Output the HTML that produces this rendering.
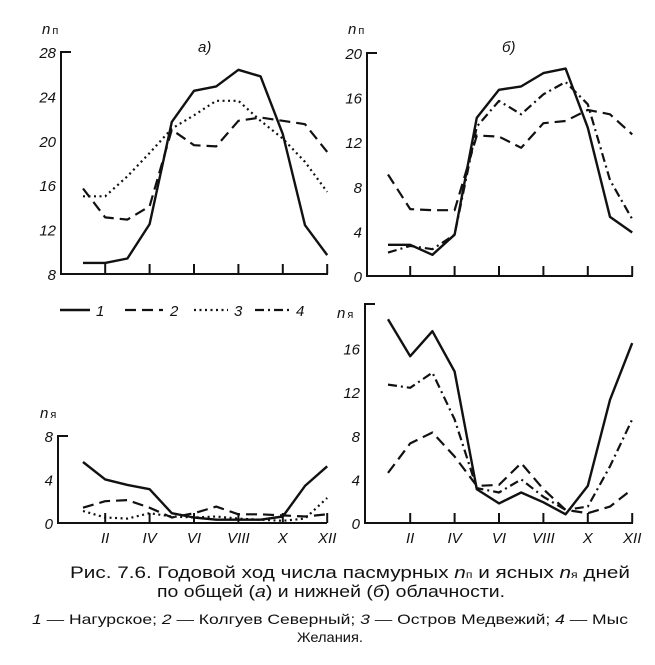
<!DOCTYPE html>
<html><head><meta charset="utf-8"><style>
html,body{margin:0;padding:0;background:#fff;width:655px;height:665px;overflow:hidden}
svg{display:block}
text{font-family:"Liberation Sans","DejaVu Sans",sans-serif;fill:#111}
.tk{font-style:italic;font-size:15px}
.cap{font-family:"Liberation Sans",sans-serif;font-size:17px}
.cap2{font-family:"Liberation Sans",sans-serif;font-size:14px}
</style></head><body>
<svg id="fig" width="655" height="665" viewBox="0 0 655 665">
<g id="axes" stroke="#111" stroke-width="2" fill="none"></g>
<g id="marks" fill="none" stroke="#111"></g>
<g id="labels"></g>
<g>
 <line x1="60" y1="310" x2="90" y2="310" stroke="#111" stroke-width="2.4"/>
 <text x="96" y="316" class="tk">1</text>
 <line x1="125" y1="310" x2="163" y2="310" stroke="#111" stroke-width="2.2" stroke-dasharray="11 6"/>
 <text x="170" y="316" class="tk">2</text>
 <line x1="194" y1="310" x2="228" y2="310" stroke="#111" stroke-width="2.2" stroke-dasharray="2 3.5"/>
 <text x="234" y="316" class="tk">3</text>
 <line x1="255" y1="310" x2="290" y2="310" stroke="#111" stroke-width="2.2" stroke-dasharray="9 4 2 4"/>
 <text x="296" y="316" class="tk">4</text>
</g>
<g>
 <text x="70" y="578" textLength="560" lengthAdjust="spacingAndGlyphs" class="cap">Рис. 7.6. Годовой ход числа пасмурных <tspan font-style="italic">n</tspan><tspan font-size="10">п</tspan> и ясных <tspan font-style="italic">n</tspan><tspan font-size="10">я</tspan> дней</text>
 <text x="157" y="597" textLength="348" lengthAdjust="spacingAndGlyphs" class="cap">по общей (<tspan font-style="italic">а</tspan>) и нижней (<tspan font-style="italic">б</tspan>) облачности.</text>
 <text x="32" y="624" textLength="596" lengthAdjust="spacingAndGlyphs" class="cap2"><tspan font-style="italic">1</tspan> — Нагурское; <tspan font-style="italic">2</tspan> — Колгуев Северный; <tspan font-style="italic">3</tspan> — Остров Медвежий; <tspan font-style="italic">4</tspan> — Мыс</text>
 <text x="297" y="642" textLength="66" lengthAdjust="spacingAndGlyphs" class="cap2">Желания.</text>
</g>
</svg>
<script>
// Panel a) overcast (total cloud)
const aOvc1 = [9.0, 9.0, 9.4, 12.5, 21.7, 24.5, 24.9, 26.4, 25.8, 20.6, 12.4, 9.7];
const aOvc2 = [15.7, 13.1, 12.9, 14.1, 21.0, 19.6, 19.5, 21.8, 22.1, 21.8, 21.5, 19.0];
const aOvc3 = [15.0, 15.0, 16.8, 18.9, 21.1, 22.3, 23.6, 23.6, 21.8, 20.2, 18.1, 15.4];
// Panel б) overcast (low cloud)
const bOvc1 = [2.8, 2.8, 1.9, 3.7, 14.2, 16.7, 17.0, 18.2, 18.6, 13.3, 5.3, 3.9];
const bOvc2 = [9.1, 6.0, 5.9, 5.9, 12.6, 12.5, 11.5, 13.7, 13.9, 14.9, 14.5, 12.7];
const bOvc4 = [2.1, 2.7, 2.4, 3.7, 13.4, 15.7, 14.5, 16.3, 17.4, 15.4, 8.6, 5.1];
// Panel a) clear days
const aClr1 = [5.6, 4.0, 3.5, 3.1, 0.9, 0.5, 0.3, 0.3, 0.3, 0.6, 3.4, 5.2];
const aClr2 = [1.4, 2.0, 2.1, 1.4, 0.5, 0.9, 1.5, 0.8, 0.8, 0.7, 0.6, 0.8];
const aClr3 = [1.1, 0.5, 0.4, 0.9, 0.6, 0.5, 0.6, 0.4, 0.3, 0.2, 0.4, 2.3];
// Panel б) clear days
const bClr1 = [18.7, 15.3, 17.6, 13.9, 3.1, 1.8, 2.8, 1.9, 0.8, 3.4, 11.3, 16.5];
const bClr2 = [4.6, 7.3, 8.3, 6.1, 3.4, 3.5, 5.5, 3.1, 1.2, 0.9, 1.5, 3.1];
const bClr4 = [12.7, 12.4, 13.8, 9.5, 3.2, 2.8, 4.0, 2.4, 1.2, 1.5, 5.2, 9.5];
const monthLabels = ["II","IV","VI","VIII","X","XII"];
const ticksA = [8,12,16,20,24,28];
const ticksB = [0,4,8,12,16,20];
const ticksC = [0,4,8];
const ticksD = [0,4,8,12,16];

const NS="http://www.w3.org/2000/svg";
const axesG=document.getElementById('axes'), marksG=document.getElementById('marks'), labG=document.getElementById('labels');
const styles={
 s1:{w:2.4,d:null},s2:{w:2.2,d:"11 6"},s3:{w:2.2,d:"2 3.5"},s4:{w:2.2,d:"9 4 2 4"}
};
function mk(tag,attrs,parent){const e=document.createElementNS(NS,tag);for(const k in attrs)e.setAttribute(k,attrs[k]);parent.appendChild(e);return e;}
function panel(p){
 const xS=m=>p.x0+(m-1)*p.step;
 const yS=v=>p.yBase-(v-p.vmin)*p.ppu;
 const ax=mk('path',{d:`M${p.ax+10} ${p.yTop} H${p.ax} V${p.yBase} H${p.xEnd}`},axesG);
 
 
 for(let i=0;i<6;i++){
  const m=2+2*i, x=xS(m);
  const t=mk('line',{x1:x,y1:p.yBase,x2:x,y2:p.yBase-10},axesG);
  
  
  if(p.xlabels){
   const l=mk('text',{x:x,y:p.yBase+20,'text-anchor':'middle',class:'tk'},labG);
   l.textContent=monthLabels[i];
   
   
  }
 }
 p.ticks.forEach(v=>{
  const l=mk('text',{x:p.ax-5,y:yS(v)+6,'text-anchor':'end',class:'tk'},labG);
  l.textContent=v;
  
  
 });
 p.series.forEach(([vals,st,id])=>{
  const d=vals.map((v,i)=>(i?'L':'M')+xS(i+1).toFixed(1)+' '+yS(v).toFixed(1)).join(' ');
  const a={d:d,'stroke-width':styles[st].w,'stroke-linejoin':'round'};
  if(styles[st].d)a['stroke-dasharray']=styles[st].d;
  const e=mk('path',a,marksG);
  
  
 });
}
panel({name:'overcast-total',ax:61,yTop:52,yBase:274,xEnd:328,x0:83,step:22.2,vmin:8,ppu:11.1,ticks:ticksA,xlabels:false,
 series:[[aOvc1,'s1','line-1'],[aOvc2,'s2','line-2'],[aOvc3,'s3','line-3']]});
panel({name:'overcast-low',ax:367,yTop:53,yBase:276,xEnd:633,x0:388,step:22.2,vmin:0,ppu:11.15,ticks:ticksB,xlabels:false,
 series:[[bOvc1,'s1','line-1'],[bOvc2,'s2','line-2'],[bOvc4,'s4','line-4']]});
panel({name:'clear-total',ax:58,yTop:436,yBase:523,xEnd:327,x0:83,step:22.2,vmin:0,ppu:10.9,ticks:ticksC,xlabels:true,
 series:[[aClr1,'s1','line-1'],[aClr2,'s2','line-2'],[aClr3,'s3','line-3']]});
panel({name:'clear-low',ax:365,yTop:304,yBase:523,xEnd:633,x0:388,step:22.2,vmin:0,ppu:10.9,ticks:ticksD,xlabels:true,
 series:[[bClr1,'s1','line-1'],[bClr2,'s2','line-2'],[bClr4,'s4','line-4']]});

[[42,34,'п','y-title-overcast-a'],[348,34,'п','y-title-overcast-b'],[40,418,'я','y-title-clear-a'],[337,318,'я','y-title-clear-b']].forEach(([x,y,s,n])=>{
 const t=mk('text',{x:x,y:y,class:'tk','font-size':'17'},labG);
 t.innerHTML='n<tspan font-size="11" font-style="normal" dx="2">'+s+'</tspan>';
 
 
});
[[198,52,'а)','panel-label-a'],[502,52,'б)','panel-label-b']].forEach(([x,y,s,n])=>{
 const t=mk('text',{x:x,y:y,class:'tk','font-size':'16'},labG);
 t.textContent=s;
 
 
});
</script>
</body></html>
